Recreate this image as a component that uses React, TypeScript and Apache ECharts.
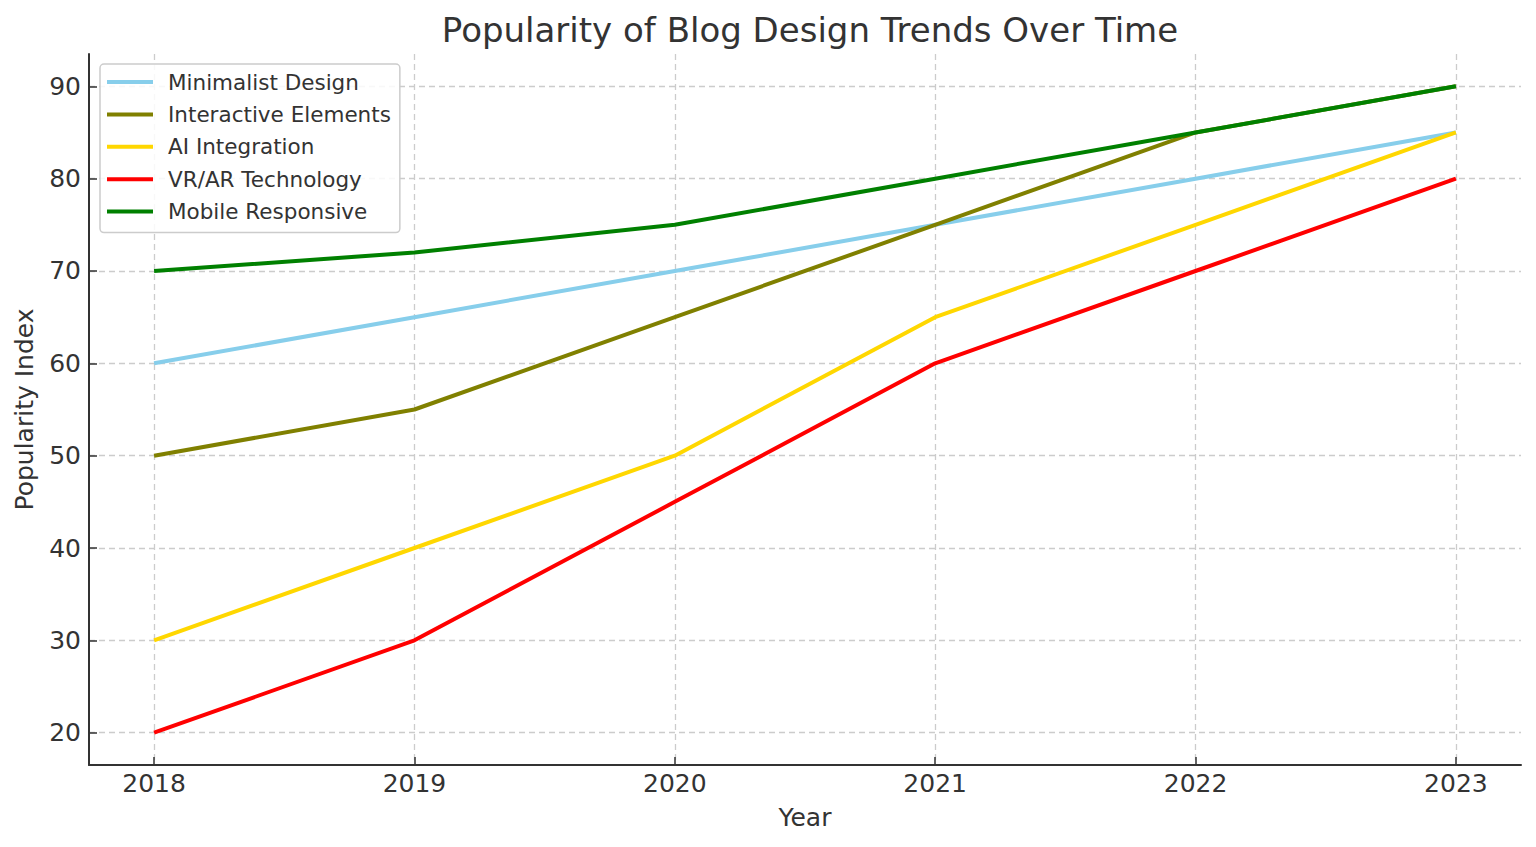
import React, { useEffect, useRef } from "react";
import * as echarts from "echarts";

const years = [2018, 2019, 2020, 2021, 2022, 2023];
const yTicks = [20, 30, 40, 50, 60, 70, 80, 90];
const minimalist = [60, 65, 70, 75, 80, 85];
const interactive = [50, 55, 65, 75, 85, 90];
const aiIntegration = [30, 40, 50, 65, 75, 85];
const vrAr = [20, 30, 45, 60, 70, 80];
const mobile = [70, 72, 75, 80, 85, 90];

const seriesDefs = [
  { name: "Minimalist Design", data: minimalist, color: "#87CEEB" },
  { name: "Interactive Elements", data: interactive, color: "#808000" },
  { name: "AI Integration", data: aiIntegration, color: "#FFD700" },
  { name: "VR/AR Technology", data: vrAr, color: "#FF0000" },
  { name: "Mobile Responsive", data: mobile, color: "#008000" },
];

const FONT = "'DejaVu Sans', sans-serif";
const TEXT = "#333333";

export default function App() {
  const ref = useRef<HTMLDivElement>(null);
  useEffect(() => {
    if (!ref.current) return;
    const chart = echarts.init(ref.current, undefined, { renderer: "svg" });
    chart.setOption({
      animation: false,
      backgroundColor: "#ffffff",
      textStyle: { fontFamily: FONT, color: TEXT },
      title: {
        text: "Popularity of Blog Design Trends Over Time",
        left: 805,
        top: 8,
        textAlign: "center",
        textStyle: { fontFamily: FONT, fontSize: 34, fontWeight: "normal", color: TEXT },
      },
      legend: {
        orient: "vertical",
        left: 100,
        top: 64,
        padding: [6, 9, 9, 7],
        icon: "rect",
        itemWidth: 46,
        itemHeight: 4,
        itemGap: 8.4,
        backgroundColor: "rgba(255,255,255,0.85)",
        borderColor: "#cccccc",
        borderWidth: 1.5,
        borderRadius: 4,
        textStyle: { fontFamily: FONT, fontSize: 21.5, color: TEXT, lineHeight: 24, padding: [0, 0, 0, 10] },
        data: seriesDefs.map((s) => s.name),
      },
      grid: { left: 89, right: 15, top: 54, bottom: 82, containLabel: false },
      xAxis: {
        type: "value",
        min: 2017.75,
        max: 2023.25,
        name: "Year",
        nameLocation: "middle",
        nameGap: 40,
        nameTextStyle: { fontFamily: FONT, fontSize: 25, color: TEXT },
        axisLine: { show: true, lineStyle: { color: TEXT, width: 2 } },
        axisTick: { show: true, inside: true, length: 8, lineStyle: { color: TEXT, width: 1.5 }, customValues: years },
        axisLabel: {
          customValues: years,
          fontFamily: FONT,
          fontSize: 25,
          color: TEXT,
          margin: 6,
          formatter: (v: number) => String(Math.round(v)),
        },
        splitLine: { show: true, lineStyle: { color: "#cccccc", type: [6, 4], width: 1.3 } },
      },
      yAxis: {
        type: "value",
        min: 16.5,
        max: 93.5,
        name: "Popularity Index",
        nameLocation: "middle",
        nameGap: 52,
        nameRotate: 90,
        nameTextStyle: { fontFamily: FONT, fontSize: 25, color: TEXT },
        axisLine: { show: true, lineStyle: { color: TEXT, width: 2 } },
        axisTick: { show: true, inside: true, length: 8, lineStyle: { color: TEXT, width: 1.5 }, customValues: yTicks },
        axisLabel: {
          customValues: yTicks,
          fontFamily: FONT,
          fontSize: 25,
          color: TEXT,
          margin: 8,
          formatter: (v: number) => String(Math.round(v)),
        },
        splitLine: { show: true, lineStyle: { color: "#cccccc", type: [6, 4], width: 1.3 } },
      },
      series: seriesDefs.map((s) => ({
        name: s.name,
        type: "line",
        data: s.data.map((v, i) => [years[i], v]),
        symbol: "none",
        color: s.color,
        lineStyle: { color: s.color, width: 4 },
        itemStyle: { color: s.color },
      })),
    });
    return () => chart.dispose();
  }, []);
  return (
    <div
      ref={ref}
      style={{ position: "fixed", left: 0, top: 0, width: 1536, height: 847, background: "#fff" }}
    />
  );
}
